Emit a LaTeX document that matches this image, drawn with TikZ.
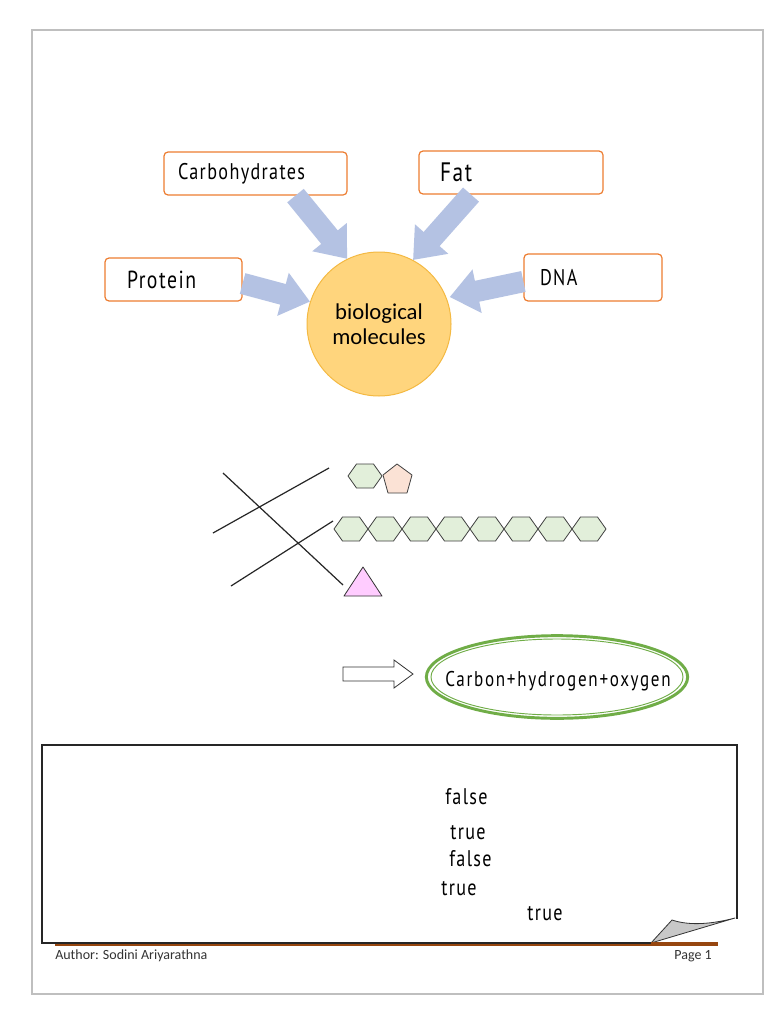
\documentclass[tikz,border=0pt]{standalone}
\usepackage{fontspec}
\setmainfont{Carlito}
\newfontfamily\hand[FakeStretch=0.8,LetterSpace=6]{PT Sans}
\newfontfamily\handwide[FakeStretch=0.8,LetterSpace=8]{PT Sans}
\usetikzlibrary{arrows.meta,shapes.geometric,calc}
\definecolor{orangeb}{RGB}{237,125,49}
\definecolor{blockblue}{RGB}{180,194,227}
\definecolor{circfill}{RGB}{255,213,125}
\definecolor{circline}{RGB}{244,185,66}
\definecolor{hexgreen}{RGB}{226,239,218}
\definecolor{pentpeach}{RGB}{251,226,213}
\definecolor{tripink}{RGB}{255,204,255}
\definecolor{ellgreen}{RGB}{112,173,71}
\definecolor{pagegray}{RGB}{191,191,191}
\definecolor{footbrown}{RGB}{150,70,15}
\definecolor{curlgray}{RGB}{200,200,200}
\begin{document}
\begin{tikzpicture}[x=0.75pt,y=-0.75pt,
  box/.style={draw=orangeb, line width=0.9pt, rounded corners=3pt, fill=white, align=left, inner ysep=0pt, minimum height=32.25pt},
  blockarr/.style={draw=blockblue, line width=16pt, -{Triangle[width=32pt,length=21pt]}},
  hexa/.style={draw=black!75, fill=hexgreen, line width=0.6pt, line join=round},
  hw/.style={font=\hand\fontsize{17}{17}\selectfont, inner sep=0pt},
  slash/.style={draw=black!85, line width=0.9pt}
]
\useasboundingbox (0,0) rectangle (768,1024);
\fill[white] (0,0) rectangle (768,1024);
\draw[pagegray, line width=1.5pt] (32,30) rectangle (763,994);

% central circle
\node[circle, draw=circline, fill=circfill, line width=0.75pt, minimum size=108pt, align=center, font=\fontsize{17}{19}\selectfont] (bio) at (379,324) {biological\\molecules};

% boxes
\node[box, text width=116.25pt, inner xsep=10.5pt, font=\hand\fontsize{17}{17}\selectfont] (carb) at (255.5,173.5) {Carbohydrates};
\node[box, text width=106.5pt, inner xsep=15.75pt, font=\hand\fontsize{20}{20}\selectfont] (fat) at (511,172.5) {Fat};
\node[box, text width=69.75pt, inner xsep=16.5pt, font=\hand\fontsize{18.5}{18.5}\selectfont] (prot) at (173.5,279.5) {Protein};
\node[box, text width=79.5pt, inner xsep=12pt, minimum height=35.25pt, font=\hand\fontsize{17}{17}\selectfont] (dna) at (593,277.5) {DNA};

% block arrows
\draw[blockarr] ($(carb.south)+(40,0)$) -- (bio.116);
\draw[blockarr] ($(fat.south)+(-40,0)$) -- (bio.62);
\draw[blockarr] ($(prot.east)+(0,4)$) -- (bio.162);
\draw[blockarr] ($(dna.west)+(0,4)$) -- ($(bio.21)+(3,-1)$);

% crossing lines
\draw[slash] (223,473) -- (343,585);
\draw[slash] (213,533) -- (329,468);
\draw[slash] (231,586) -- (333,521);

% hexagon + pentagon
\draw[hexa] (348,476) -- (356.5,464) -- (373.5,464) -- (382,476) -- (373.5,488) -- (356.5,488) -- cycle;
\draw[draw=black!75, fill=pentpeach, line width=0.6pt, line join=round] (397,464) -- (412,475) -- (407,493) -- (388,493) -- (383,475) -- cycle;

% chain of hexagons
\foreach \i in {0,...,7}{
  \pgfmathsetmacro{\cx}{351+34*\i}
  \draw[hexa] ({\cx-17},529) -- ({\cx-8.5},517) -- ({\cx+8.5},517) -- ({\cx+17},529) -- ({\cx+8.5},541) -- ({\cx-8.5},541) -- cycle;
}

% triangle
\draw[draw=black!80, fill=tripink, line width=0.6pt, line join=round] (344,596) -- (382,596) -- (363,567) -- cycle;

% outline arrow
\draw[draw=black!80, fill=white, line width=0.6pt] (343,667) -- (394,667) -- (394,660) -- (413,674) -- (394,688) -- (394,681) -- (343,681) -- cycle;

% ellipse
\node[ellipse, draw=ellgreen, line width=2.2pt, minimum width=196pt, minimum height=62pt, inner sep=0pt] (ell) at (557,677) {};
\draw[ellgreen, line width=0.7pt] (ell.center) ellipse [x radius=94.5pt, y radius=28.5pt];
\node[inner sep=0pt, font=\handwide\fontsize{16}{16}\selectfont] (etext) at ($(ell.center)+(1,4)$) {Carbon+hydrogen+oxygen};

% bottom box
\draw[black!85, line width=0.8pt] (651,943) -- (42,943) -- (42,745) -- (737,745) -- (737,919);
\draw[fill=curlgray, draw=black!80, line width=0.6pt, line join=round] (651,943) -- (672,920) .. controls (690,926) and (712,924) .. (735,918) -- cycle;

% footer line
\draw[footbrown, line width=0.9pt] (55,945) -- (651,945);
\draw[footbrown, line width=3pt] (651,944) -- (718,944);

\node[anchor=west, inner sep=0pt, font=\fontsize{10.5}{12}\selectfont, text=black!80] (author) at (55,956) {Author: Sodini Ariyarathna};
\node[anchor=east, inner sep=0pt, font=\fontsize{10.5}{12}\selectfont, text=black!80] (page) at (712,956) {Page 1};

% handwritten answers
\node[hw, anchor=west] (a1) at (445,797) {false};
\node[hw, anchor=west] (a2) at (450,833) {true};
\node[hw, anchor=west] (a3) at (449,859) {false};
\node[hw, anchor=west] (a4) at (441,889) {true};
\node[hw, anchor=west] (a5) at (527,914) {true};
\end{tikzpicture}
\end{document}
